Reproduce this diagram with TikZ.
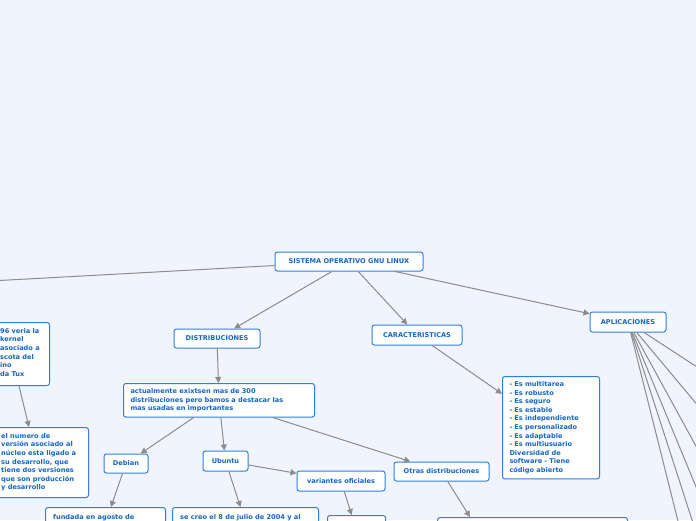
\documentclass[tikz,border=0pt]{standalone}
\usepackage{fontspec}
\setmainfont{DejaVu Sans}
\usetikzlibrary{arrows.meta}
\definecolor{bg}{HTML}{F0F4FE}
\definecolor{bd}{HTML}{2F7FE0}
\definecolor{tx}{HTML}{1466C8}
\definecolor{ln}{HTML}{8C8C8C}
\tikzset{
 box/.style={draw=bd,line width=1pt,fill=white,rounded corners=2.5pt,text=tx,font=\bfseries\fontsize{6.6}{8.6}\selectfont,inner sep=0pt,minimum height=19pt},
 lbox/.style={box,align=left,text width=#1,inner xsep=7pt,inner ysep=5pt},
 frag/.style={anchor=north west,text=tx,font=\bfseries\fontsize{6.6}{8.6}\selectfont,align=left,inner sep=0pt},
 con/.style={draw=ln,line width=1pt,-{Triangle[length=6pt,width=6pt]}},
 conn/.style={draw=ln,line width=1pt}
}
\begin{document}
\begin{tikzpicture}[x=1pt,y=-1pt]
\fill[bg] (0,0) rectangle (696,520);
\clip (0,0) rectangle (696,520);
\coordinate (lft) at (-10,281);
\coordinate (r1) at (720,382);
\coordinate (r2) at (720,432);
\coordinate (r3) at (720,490);
\coordinate (r4) at (720,545);
\coordinate (r5) at (705,560);
\coordinate (r6) at (684,545);
\node[box,minimum width=148pt] (sis) at (349,261.5) {SISTEMA OPERATIVO GNU LINUX};
\node[box,minimum width=86pt] (dist) at (217,338.5) {DISTRIBUCIONES};
\node[box,minimum width=90pt,minimum height=20pt] (car) at (417,335) {CARACTERISTICAS};
\node[box,minimum width=76pt,minimum height=20pt] (apl) at (628,322) {APLICACIONES};
\node[lbox=177pt,anchor=north west] (act) at (123,383) {actualmente exixtsen mas de 300\\distribuciones pero bamos a destacar las\\mas usadas en importantes};
\node[box,minimum width=44pt] (deb) at (126,463.5) {Debian};
\node[box,minimum width=45pt,minimum height=20pt] (ubu) at (225.5,461) {Ubuntu};
\node[box,minimum width=88pt,minimum height=20pt] (var) at (341,481) {variantes oficiales};
\node[box,minimum width=95pt] (otr) at (441.5,471.5) {Otras distribuciones};
\node[lbox=83pt,anchor=north west] (cl) at (502,376) {- Es multitarea\\- Es robusto\\- Es seguro\\- Es estable\\- Es independiente\\- Es personalizado\\- Es adaptable\\- Es multiusuario\\Diversidad de\\software - Tiene\\código abierto};
\node[box,anchor=north east,minimum width=110pt,minimum height=63pt] (l1) at (50,322) {};
\node[frag] at (0,328) {96 veria la\\kernel\\asociado a\\scota del\\ino\\da Tux};
\node[box,anchor=north east,minimum width=130pt,minimum height=70pt] (l2) at (89,427) {};
\node[frag] at (1,433) {el numero de\\versión asociado al\\núcleo esta ligado a\\su desarrollo, que\\tiene dos versiones\\que son producción\\y desarrollo};
\node[box,anchor=north west,minimum width=120pt,minimum height=30pt] (dc) at (45,507) {};
\node[frag] at (53,514) {fundada en agosto de};
\node[box,anchor=north west,minimum width=146pt,minimum height=30pt] (uc) at (172,507) {};
\node[frag] at (180,514) {se creo el 8 de julio de 2004 y al};
\node[box,anchor=north west,minimum width=58pt,minimum height=30pt] (vc) at (327,515) {};
\node[box,anchor=north west,minimum width=190pt,minimum height=30pt] (oc) at (437,517) {};
\draw[conn] (sis) -- (lft);
\draw[con] (sis) -- (dist);
\draw[con] (sis) -- (car);
\draw[con] (sis) -- (apl);
\draw[con] (dist) -- (act);
\draw[con] (act) -- (deb);
\draw[con] (act) -- (ubu);
\draw[con] (act) -- (otr);
\draw[con] (ubu) -- (var);
\draw[con] (ubu) -- (uc);
\draw[con] (deb) -- (dc);
\draw[con] (var) -- (vc);
\draw[con] (otr) -- ([xshift=33pt]oc.north west);
\draw[con] (car) -- (cl);
\draw[con] ([xshift=80pt]l1.south west) -- ([xshift=71pt]l2.north west);
\foreach \r in {r1,r2,r3,r4,r5,r6} \draw[conn] (apl) -- (\r);
\end{tikzpicture}
\end{document}
